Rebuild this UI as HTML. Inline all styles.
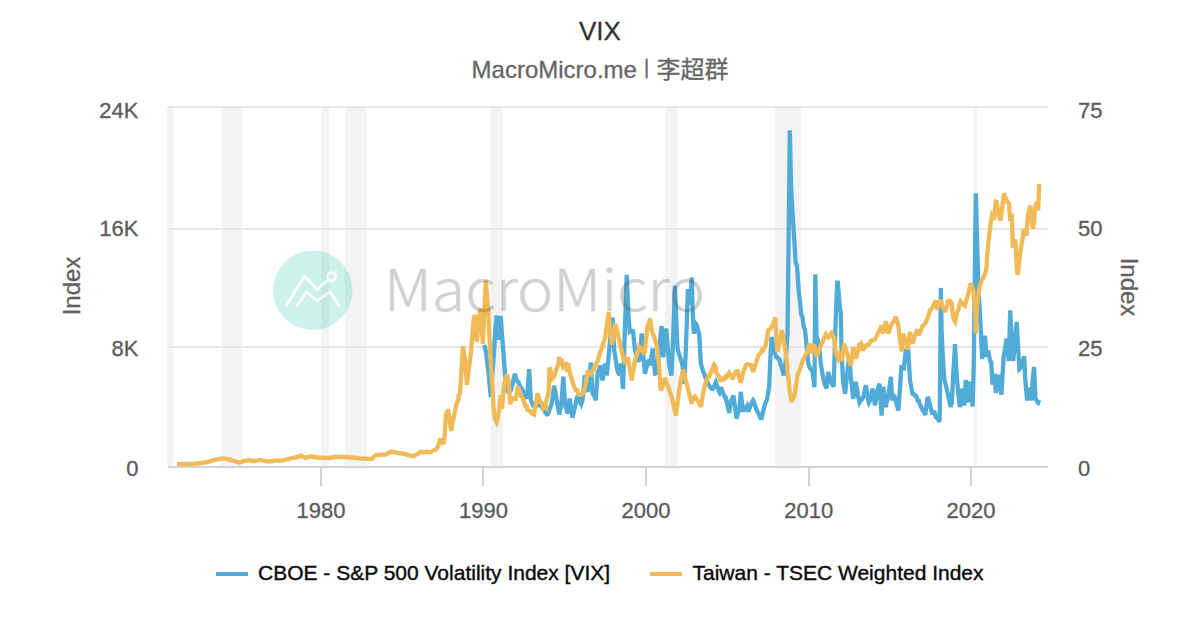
<!DOCTYPE html>
<html lang="zh-Hant">
<head>
<meta charset="utf-8">
<title>VIX</title>
<style>
html,body{margin:0;padding:0;background:#ffffff;}
body{width:1200px;height:630px;overflow:hidden;font-family:"Liberation Sans","Noto Sans CJK TC",sans-serif;}
svg{display:block;}
</style>
</head>
<body>
<svg width="1200" height="630" viewBox="0 0 1200 630">
<rect x="0" y="0" width="1200" height="630" fill="#ffffff"/>
<g fill="#f3f3f3">
<rect x="167" y="108" width="6" height="358"/>
<rect x="221" y="108" width="22" height="358"/>
<rect x="321" y="108" width="8" height="358"/>
<rect x="345" y="108" width="22" height="358"/>
<rect x="491" y="108" width="12" height="358"/>
<rect x="665" y="108" width="12" height="358"/>
<rect x="775" y="108" width="26" height="358"/>
<rect x="973" y="108" width="4" height="358"/>
</g>
<g fill="#e6e6e6">
<rect x="168" y="106" width="880" height="2"/>
<rect x="168" y="228" width="880" height="2"/>
<rect x="168" y="346" width="880" height="2"/>
</g>
<g fill="#d0d2d6">
<rect x="168" y="466" width="880" height="2"/>
<rect x="320" y="468" width="2" height="18"/>
<rect x="482" y="468" width="2" height="18"/>
<rect x="645" y="468" width="2" height="18"/>
<rect x="808" y="468" width="2" height="18"/>
<rect x="970" y="468" width="2" height="18"/>
</g>
<polyline points="484.3,345.0 485.8,351.0 488.3,371.0 490.8,397.0 492.5,372.0 494.2,350.0 495.5,327.0 496.7,315.6 498.5,339.9 500.7,316.0 502.0,335.0 503.3,351.0 505.0,374.0 506.5,385.0 508.2,391.8 509.0,391.8 510.7,390.5 511.2,389.5 514.9,373.7 516.6,380.2 518.3,382.0 520.0,386.0 521.6,388.2 523.3,392.0 524.8,393.8 525.2,395.4 526.9,398.6 529.2,369.2 530.8,400.3 533.5,406.1 534.5,406.6 536.2,404.2 536.8,404.3 538.3,405.1 538.9,405.4 540.2,404.9 541.2,404.8 542.6,408.4 543.8,409.3 545.0,412.0 546.7,414.4 547.8,414.2 551.7,403.7 554.2,385.7 556.7,400.3 559.2,414.5 561.5,403.0 563.3,376.7 565.4,407.0 566.4,408.2 567.6,413.6 569.7,398.5 572.4,417.7 575.0,407.0 577.5,395.4 580.4,402.8 581.2,404.3 582.5,400.3 584.9,375.2 587.6,392.1 590.9,362.6 592.6,393.6 594.0,395.3 595.8,400.3 597.7,372.1 598.7,371.0 600.1,365.4 602.5,380.4 605.0,363.6 606.8,375.5 609.2,350.3 611.0,330.0 612.6,317.6 614.2,350.3 617.3,369.5 617.6,370.7 619.3,375.3 620.9,363.5 623.1,389.0 624.2,350.3 625.3,317.0 626.7,274.9 628.3,312.0 629.7,331.6 631.3,330.4 633.0,331.0 635.0,350.3 638.2,360.2 638.8,361.8 640.0,357.0 641.7,333.3 643.3,355.3 644.9,373.8 648.0,361.4 648.6,361.0 650.2,365.2 652.6,348.5 655.1,373.6 655.9,373.3 657.5,372.0 659.5,345.0 661.6,326.0 663.3,357.3 665.9,328.8 666.3,330.0 669.2,365.3 671.5,375.5 673.3,333.7 674.9,285.9 674.9,285.9 677.5,348.7 680.0,357.0 682.5,365.3 684.3,384.0 685.8,350.3 687.0,317.0 687.9,289.0 689.8,304.9 691.8,277.5 692.5,305.0 693.5,330.0 694.3,333.6 695.8,323.7 696.6,324.8 699.2,333.7 700.8,363.7 703.3,372.0 704.5,374.6 705.8,378.7 707.4,381.4 707.6,383.2 709.2,385.3 710.5,387.8 711.7,388.6 712.8,388.9 713.6,387.5 715.8,382.1 718.9,391.3 719.5,392.3 720.9,387.2 723.8,394.8 724.8,397.2 725.6,397.1 729.3,412.9 731.0,400.4 732.0,399.5 733.5,395.5 736.6,418.7 738.0,412.7 739.2,410.3 740.7,391.8 743.0,411.7 744.5,408.2 746.2,407.4 747.0,406.1 748.3,411.8 752.1,401.8 753.1,400.2 753.7,401.2 756.7,410.3 758.4,413.1 760.0,417.0 761.2,419.6 761.6,417.8 764.2,407.0 765.5,402.9 766.7,400.3 769.2,387.0 770.3,358.7 771.6,336.9 774.2,350.3 776.0,357.0 777.1,357.1 778.2,358.9 779.4,359.1 780.6,364.8 781.7,367.0 783.8,375.4 785.8,358.7 787.5,333.7 788.5,250.0 789.8,130.2 791.2,190.0 793.4,226.0 795.7,263.0 796.9,265.0 798.8,291.0 801.3,314.5 802.3,316.0 803.8,327.5 805.0,329.5 806.3,343.0 808.3,363.7 810.2,368.4 811.0,369.1 812.5,372.0 814.5,387.3 815.3,274.4 816.5,336.0 818.8,343.0 820.8,363.7 823.3,378.7 824.8,384.2 826.5,388.5 828.2,372.0 831.3,382.9 831.9,383.8 833.7,386.7 834.5,358.7 835.8,317.0 837.2,282.6 837.8,282.6 840.1,310.0 840.7,311.0 841.5,350.0 843.0,380.3 845.1,393.8 847.5,370.3 849.3,356.8 850.8,377.0 853.2,398.8 855.8,381.9 858.3,397.0 859.5,402.2 860.3,400.7 862.0,399.4 863.3,397.0 865.9,385.2 868.4,401.8 868.8,402.8 870.0,400.3 872.6,388.6 875.0,405.5 877.5,390.3 879.4,383.6 881.7,415.7 883.2,386.8 885.7,407.0 888.3,395.3 890.9,376.8 892.2,400.3 893.9,395.9 894.5,396.2 898.4,410.5 900.0,388.7 901.4,365.5 903.2,368.5 903.9,368.5 905.8,350.3 907.2,349.6 908.2,349.5 910.0,380.3 912.5,393.7 913.8,394.0 914.8,395.4 916.2,396.0 917.5,400.3 918.8,400.5 919.4,403.1 922.6,410.2 923.8,411.4 925.3,415.1 927.6,397.1 928.2,398.1 931.7,411.8 932.0,412.8 933.4,412.8 934.5,412.5 935.8,417.0 937.1,418.2 937.9,418.9 939.6,421.8 940.2,367.0 940.8,287.9 941.6,330.0 942.5,350.3 944.2,378.7 946.7,388.7 950.1,404.7 950.5,406.8 951.7,403.7 953.3,373.7 955.0,344.2 956.7,375.3 958.3,393.7 960.0,407.1 962.5,388.5 964.3,405.6 965.7,380.1 968.3,402.2 970.0,381.8 972.6,406.5 973.7,367.0 975.8,193.2 978.5,290.0 980.4,322.0 982.2,358.9 985.0,335.6 986.5,356.9 988.1,350.5 990.2,361.1 991.2,362.2 992.5,384.5 994.5,373.7 995.9,392.9 998.3,374.9 1001.4,394.6 1003.6,357.0 1005.3,348.0 1006.5,338.6 1008.8,361.0 1010.2,310.3 1011.8,340.0 1013.3,361.0 1015.0,340.0 1016.7,322.0 1018.0,345.0 1019.4,369.2 1020.1,368.6 1022.5,364.0 1024.2,356.2 1025.3,380.0 1027.2,400.5 1029.3,387.6 1031.4,400.5 1032.7,380.0 1034.1,367.0 1035.4,398.6 1036.3,399.7 1037.7,402.5 1038.1,402.8 1039.3,400.0" fill="none" stroke="#51abd7" stroke-width="4.3" stroke-linejoin="miter" stroke-miterlimit="3" stroke-linecap="butt"/>
<polyline points="177.0,464.0 178.3,464.1 179.6,463.9 180.9,464.1 182.1,463.9 183.4,464.1 184.7,463.9 186.0,464.0 187.4,464.0 188.9,463.8 190.3,463.9 191.7,463.7 193.1,463.8 194.6,463.6 196.0,463.6 197.4,463.5 198.9,463.1 200.3,463.2 201.7,462.9 203.1,462.9 204.6,462.4 206.0,462.4 207.3,462.2 208.7,461.4 210.0,461.3 211.3,460.7 212.7,460.6 214.0,460.0 215.3,459.7 216.6,459.7 217.9,459.2 219.1,459.2 220.4,458.7 221.7,458.8 223.0,458.4 224.3,458.5 225.7,459.0 227.0,459.1 228.4,459.6 229.7,459.5 231.0,460.0 232.3,460.6 233.7,460.7 235.0,461.4 236.3,461.6 237.7,462.3 239.0,462.5 240.3,462.1 241.6,462.0 242.9,461.4 244.1,461.2 245.4,460.6 246.7,460.6 248.0,460.0 249.5,460.1 251.0,460.7 252.5,460.6 254.0,461.0 255.5,461.0 257.0,460.3 258.5,460.3 260.0,460.0 261.3,460.1 262.6,460.6 263.8,460.6 265.2,461.1 266.4,461.0 267.7,461.5 269.0,461.6 270.5,461.2 272.0,461.3 273.5,460.7 275.0,460.6 276.4,460.7 277.8,460.5 279.2,460.8 280.6,460.4 282.0,460.6 283.3,460.4 284.7,459.8 286.0,459.7 287.3,459.1 288.7,459.2 290.0,458.6 291.3,458.2 292.6,458.2 294.0,457.7 295.3,457.6 296.7,457.0 298.0,457.0 299.2,456.7 300.4,455.7 301.5,455.6 302.7,456.5 303.9,456.9 305.1,457.7 306.2,457.8 307.5,457.1 308.7,457.0 310.0,456.4 311.5,456.4 313.0,457.0 314.5,456.9 316.0,457.4 317.3,457.7 318.7,457.4 320.0,457.7 321.3,457.5 322.7,457.8 324.0,457.6 325.3,457.9 326.7,457.7 328.0,458.0 329.5,458.0 331.0,457.4 332.5,457.5 334.0,457.0 335.3,456.8 336.7,457.1 338.0,456.8 339.3,457.1 340.7,456.9 342.0,457.1 343.3,456.9 344.7,457.2 346.0,457.0 347.4,457.0 348.8,457.4 350.2,457.2 351.6,457.6 353.0,457.6 354.4,458.0 355.8,457.8 357.2,458.2 358.6,458.1 360.0,458.4 361.3,458.6 362.7,458.4 364.0,458.6 365.3,458.5 366.7,458.8 368.0,458.7 369.3,459.0 370.7,458.8 371.9,458.8 373.3,457.8 374.7,455.9 376.0,455.2 377.3,455.1 378.6,454.7 379.8,454.8 381.1,454.7 382.4,454.8 383.7,454.5 385.0,454.6 386.4,454.2 387.9,453.1 389.2,452.9 390.6,451.9 392.0,451.7 393.3,452.0 394.6,452.1 396.1,452.5 397.3,452.7 398.7,453.3 400.0,453.3 401.3,453.2 402.7,453.7 404.0,453.6 405.3,454.0 406.8,454.8 408.2,454.9 409.8,455.6 411.2,455.7 412.7,456.2 414.2,455.9 415.8,454.6 417.3,454.0 418.6,453.5 420.0,452.0 421.2,451.8 422.5,452.1 423.5,452.3 424.7,452.4 425.6,452.3 426.8,451.7 427.7,451.6 428.9,452.4 430.4,452.3 432.0,451.0 433.6,450.2 435.2,449.9 436.6,448.6 438.0,446.7 440.0,440.0 441.2,440.2 443.5,444.3 444.7,434.0 446.0,414.0 447.7,411.0 448.4,411.0 450.0,423.3 451.3,431.0 452.7,422.0 454.7,412.7 456.7,403.3 458.7,398.9 458.5,395.7 460.0,394.0 461.5,370.0 462.9,346.1 465.0,358.0 466.9,384.9 469.0,368.0 471.0,352.0 473.5,320.5 474.7,315.0 475.8,321.0 476.8,342.0 480.2,309.8 480.9,308.5 482.8,344.0 485.8,280.5 488.1,308.0 489.3,334.0 490.6,358.7 492.0,380.0 493.7,410.0 495.0,419.0 496.5,422.2 497.0,420.7 499.3,410.0 500.7,395.1 502.0,408.9 504.2,384.0 507.0,374.5 508.5,381.0 510.3,404.2 512.1,398.1 513.0,398.1 514.9,398.9 515.9,398.9 517.7,386.3 520.5,393.4 520.9,396.1 522.5,397.5 525.3,406.0 526.7,406.2 527.4,409.8 529.0,410.5 530.4,411.1 531.1,413.1 533.4,414.0 534.0,414.4 536.0,403.0 537.4,393.4 540.2,401.8 541.4,402.6 543.3,407.5 543.9,406.2 546.1,407.8 545.8,402.9 548.7,392.0 549.5,367.2 552.6,378.6 553.2,378.1 555.0,373.7 558.3,363.7 559.4,356.9 560.5,365.5 561.7,358.8 563.3,366.8 564.7,365.4 565.8,364.5 566.9,371.9 568.1,363.0 569.2,370.3 572.5,382.0 575.8,390.3 577.2,390.4 578.4,394.1 580.0,394.5 581.4,394.6 583.3,392.8 585.8,383.7 587.6,372.0 588.9,371.9 590.8,373.7 591.1,372.3 593.8,369.5 593.9,367.7 597.5,361.2 600.0,352.8 603.0,344.8 603.2,343.1 605.0,338.7 606.7,326.0 608.7,312.4 610.0,330.0 611.9,344.8 613.5,336.0 615.2,323.9 617.5,332.0 620.0,344.0 622.5,354.0 625.0,364.0 627.1,359.2 628.2,359.1 631.7,380.5 635.0,360.3 638.9,348.6 639.3,346.7 640.8,348.2 644.4,354.3 647.5,327.0 650.1,318.7 651.7,330.3 654.2,337.0 656.7,345.3 659.2,367.0 660.6,390.4 662.4,387.6 662.7,384.2 665.0,377.9 667.1,385.0 667.9,386.1 671.7,397.0 675.9,415.4 678.3,397.0 680.8,378.7 683.3,369.7 685.8,380.3 688.3,390.3 691.7,403.6 693.3,397.5 694.1,397.2 695.1,396.5 696.7,398.9 701.0,406.8 703.3,392.0 705.8,382.0 708.3,376.2 709.4,376.5 710.5,373.3 714.2,364.7 715.9,367.5 716.0,372.4 719.8,377.4 720.3,381.7 721.6,378.4 724.2,379.2 725.8,376.5 726.7,377.0 728.6,373.7 729.2,372.8 732.0,377.8 732.8,378.0 734.2,374.5 736.3,371.4 737.5,371.2 740.8,382.7 743.3,372.0 745.9,365.4 747.0,364.3 748.5,364.4 751.1,365.0 751.5,366.9 753.2,371.8 755.8,363.7 758.3,355.3 760.7,353.0 762.2,349.6 763.3,350.3 765.8,344.5 768.3,330.3 769.9,329.1 770.8,328.7 771.2,327.3 773.0,324.5 775.2,317.3 776.4,337.0 777.4,352.1 780.0,340.3 781.7,330.3 784.2,342.0 786.7,360.3 789.2,387.0 791.5,401.8 793.6,397.2 794.4,396.3 797.5,375.3 800.0,369.0 802.5,361.5 805.4,354.9 806.2,353.7 808.3,349.0 809.5,343.5 810.3,353.0 811.7,349.5 813.4,345.5 814.3,346.0 816.5,356.9 820.0,347.0 823.6,339.3 824.1,338.3 825.8,334.5 826.5,335.7 828.5,337.6 828.9,337.2 831.1,333.4 831.5,333.0 834.2,338.7 835.8,353.7 837.8,357.4 838.3,358.7 839.6,354.7 841.3,359.1 841.7,361.2 844.0,343.7 846.7,352.0 850.9,366.1 853.2,347.0 855.8,358.5 858.3,350.3 859.4,342.7 860.6,350.5 861.7,344.5 862.5,345.7 864.1,348.4 866.5,345.1 868.3,344.1 869.0,344.3 871.0,340.8 871.6,340.4 873.2,340.5 875.0,339.5 877.2,334.9 878.0,333.0 881.8,325.6 882.8,333.6 884.2,329.5 885.8,321.2 888.2,333.4 890.8,326.2 892.5,322.5 893.3,322.0 894.0,321.1 895.7,316.7 898.3,325.3 900.0,340.3 901.8,351.3 903.1,333.7 905.8,341.2 907.6,349.5 909.9,332.1 912.5,343.5 915.0,335.3 916.6,330.8 917.2,330.8 919.0,334.0 919.6,333.9 922.5,326.2 924.2,324.6 925.0,323.7 925.5,322.7 927.5,318.5 930.0,310.3 931.9,308.8 933.1,305.7 935.9,300.5 937.4,309.3 940.1,299.7 941.9,304.2 942.5,305.3 943.0,306.7 945.0,312.0 947.4,304.6 947.6,301.5 949.4,300.5 950.1,300.7 951.7,303.7 953.0,317.0 954.7,321.1 955.2,321.9 957.0,313.0 958.9,308.3 959.0,306.5 960.7,301.3 963.1,304.6 965.0,305.7 965.2,304.1 968.3,293.7 970.7,283.1 973.3,290.3 975.0,307.0 975.8,333.1 977.0,305.3 979.2,288.7 982.0,279.0 983.1,278.2 985.0,274.0 986.5,268.0 987.2,255.0 988.3,244.0 989.5,233.0 990.5,224.0 992.0,215.5 992.9,217.0 994.2,217.7 995.8,201.7 996.6,202.0 999.3,216.7 1000.4,220.7 1001.3,215.3 1003.3,198.0 1004.2,193.3 1005.3,197.3 1006.8,200.7 1007.2,201.8 1008.9,203.3 1010.2,221.0 1011.8,213.7 1012.5,236.0 1012.5,247.6 1015.3,239.4 1016.8,268.0 1017.7,274.8 1018.6,268.0 1020.0,254.0 1021.5,245.0 1023.0,236.0 1023.8,228.8 1025.0,232.0 1026.7,235.4 1027.3,222.0 1028.0,215.0 1030.1,205.6 1032.0,222.7 1033.0,228.6 1034.0,222.7 1035.0,207.3 1036.8,201.8 1038.2,210.5 1039.2,184.0" fill="none" stroke="#f0ba56" stroke-width="4.3" stroke-linejoin="miter" stroke-miterlimit="3" stroke-linecap="butt"/>
<g opacity="0.25">
<circle cx="312.8" cy="290.3" r="39.7" fill="#37cfb3"/>
<g fill="none" stroke="#ffffff" stroke-width="2.7" stroke-linecap="round" stroke-linejoin="round">
<polyline points="286.6,305.3 304.4,276 317.3,289.6 328.2,279.4"/>
<polyline points="297.3,305.3 306.6,291.7 317.3,301 330.1,291.7 338.7,305.3"/>
<circle cx="331.6" cy="276.6" r="4.2" stroke-width="2.4"/>
</g>
<text x="383.7" y="310.6" font-family="'Noto Sans CJK TC', 'DejaVu Sans Light', 'Liberation Sans', sans-serif" font-weight="300" font-size="58" fill="#4d4d4d" stroke="#4d4d4d" stroke-width="0.5" textLength="321.5" lengthAdjust="spacingAndGlyphs">MacroMicro</text>
</g>
<g font-family='"Liberation Sans", "Noto Sans CJK TC", sans-serif'>
<text x="600" y="39.5" text-anchor="middle" font-size="26" fill="#333333" stroke="#333333" stroke-width="0.3">VIX</text>
<text x="600" y="78" text-anchor="middle" font-size="24" fill="#666666" stroke="#666666" stroke-width="0.3">MacroMicro.me <tspan font-size="20" dy="-4.2" dx="0.4">|</tspan><tspan dy="4.2" dx="0.6"> 李超群</tspan></text>
<g font-size="22" fill="#5a5a5a" stroke="#5a5a5a" stroke-width="0.3" text-anchor="end">
<text x="138.5" y="118">24K</text>
<text x="138.5" y="235.75">16K</text>
<text x="138.5" y="355.75">8K</text>
<text x="138.5" y="475.75">0</text>
</g>
<g font-size="22" fill="#5a5a5a" stroke="#5a5a5a" stroke-width="0.3" text-anchor="start">
<text x="1078" y="118">75</text>
<text x="1078" y="235.75">50</text>
<text x="1078" y="355.75">25</text>
<text x="1078" y="475.75">0</text>
</g>
<g font-size="22" fill="#5a5a5a" stroke="#5a5a5a" stroke-width="0.3" text-anchor="middle">
<text x="321" y="517.5">1980</text>
<text x="483.5" y="517.5">1990</text>
<text x="646" y="517.5">2000</text>
<text x="808.7" y="517.5">2010</text>
<text x="971" y="517.5">2020</text>
</g>
<text transform="translate(80,286) rotate(-90)" text-anchor="middle" font-size="24" fill="#606060" stroke="#606060" stroke-width="0.3">Index</text>
<text transform="translate(1121,287) rotate(90)" text-anchor="middle" font-size="24" fill="#606060" stroke="#606060" stroke-width="0.3">Index</text>
<rect x="216" y="572" width="32" height="4" fill="#51abd7"/>
<text x="258" y="579.7" font-size="21" fill="#0a0a0a" stroke="#0a0a0a" stroke-width="0.4">CBOE - S&amp;P 500 Volatility Index [VIX]</text>
<rect x="650" y="572" width="32" height="4" fill="#f0ba56"/>
<text x="692.5" y="579.7" font-size="21" fill="#0a0a0a" stroke="#0a0a0a" stroke-width="0.4">Taiwan - TSEC Weighted Index</text>
</g>
</svg>
</body>
</html>
